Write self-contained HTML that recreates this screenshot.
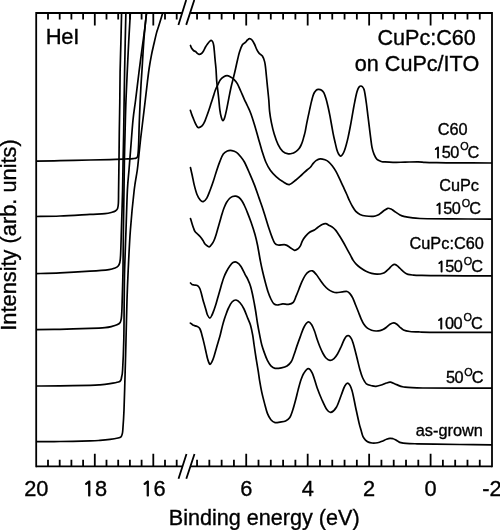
<!DOCTYPE html>
<html><head><meta charset="utf-8"><title>UPS spectra</title>
<style>
html,body{margin:0;padding:0;background:#fff;}
body{width:500px;height:530px;overflow:hidden;}
svg{display:block;}
</style></head>
<body>
<svg width="500" height="530" viewBox="0 0 500 530">
<rect width="500" height="530" fill="#fff"/>
<g stroke="#000" stroke-width="1.80" fill="none" stroke-linecap="butt">
<path d="M36.20,12.10 V467.20 M492.00,12.10 V467.20"/>
<path d="M36.20,13.00 H182.20 M190.40,13.00 H492.00"/>
<path d="M36.20,466.30 H182.20 M190.40,466.30 H492.00"/>
<path d="M48.00,13.00 v6.60 M48.00,466.30 v-6.60 M59.70,13.00 v6.60 M59.70,466.30 v-6.60 M71.40,13.00 v6.60 M71.40,466.30 v-6.60 M83.10,13.00 v6.60 M83.10,466.30 v-6.60 M94.80,13.00 v12.50 M94.80,466.30 v-12.50 M106.50,13.00 v6.60 M106.50,466.30 v-6.60 M118.20,13.00 v6.60 M118.20,466.30 v-6.60 M129.90,13.00 v6.60 M129.90,466.30 v-6.60 M141.60,13.00 v6.60 M141.60,466.30 v-6.60 M153.30,13.00 v12.50 M153.30,466.30 v-12.50 M165.00,13.00 v6.60 M165.00,466.30 v-6.60 M176.70,13.00 v6.60 M176.70,466.30 v-6.60 M197.05,13.00 v6.60 M197.05,466.30 v-6.60 M209.34,13.00 v6.60 M209.34,466.30 v-6.60 M221.64,13.00 v6.60 M221.64,466.30 v-6.60 M233.93,13.00 v6.60 M233.93,466.30 v-6.60 M246.22,13.00 v12.50 M246.22,466.30 v-12.50 M258.51,13.00 v6.60 M258.51,466.30 v-6.60 M270.80,13.00 v6.60 M270.80,466.30 v-6.60 M283.10,13.00 v6.60 M283.10,466.30 v-6.60 M295.39,13.00 v6.60 M295.39,466.30 v-6.60 M307.68,13.00 v12.50 M307.68,466.30 v-12.50 M319.97,13.00 v6.60 M319.97,466.30 v-6.60 M332.26,13.00 v6.60 M332.26,466.30 v-6.60 M344.56,13.00 v6.60 M344.56,466.30 v-6.60 M356.85,13.00 v6.60 M356.85,466.30 v-6.60 M369.14,13.00 v12.50 M369.14,466.30 v-12.50 M381.43,13.00 v6.60 M381.43,466.30 v-6.60 M393.72,13.00 v6.60 M393.72,466.30 v-6.60 M406.02,13.00 v6.60 M406.02,466.30 v-6.60 M418.31,13.00 v6.60 M418.31,466.30 v-6.60 M430.60,13.00 v12.50 M430.60,466.30 v-12.50 M442.89,13.00 v6.60 M442.89,466.30 v-6.60 M455.18,13.00 v6.60 M455.18,466.30 v-6.60 M467.48,13.00 v6.60 M467.48,466.30 v-6.60 M479.77,13.00 v6.60 M479.77,466.30 v-6.60"/>
<path d="M178.4,24.9 L186.2,0 M186.2,24.9 L194.3,0"/>
<path d="M178.5,478.8 L186.5,454 M186.3,478.8 L194.5,454"/>
</g>
<clipPath id="cl"><rect x="36.20" y="13.00" width="455.80" height="453.30"/></clipPath>
<g stroke="#000" stroke-width="1.70" fill="none" stroke-linejoin="round" stroke-linecap="round" clip-path="url(#cl)">
<path d="M36.30,161.10 C40.25,161.03 51.05,160.88 60.00,160.70 C68.95,160.52 81.67,160.18 90.00,160.00 C98.33,159.82 104.17,159.77 110.00,159.60 C115.83,159.43 121.17,159.17 125.00,159.00 C128.83,158.83 131.12,158.77 133.00,158.60 C134.88,158.43 135.50,158.50 136.30,158.00 C137.10,157.50 137.42,157.77 137.80,155.60 C138.18,153.43 138.37,150.10 138.60,145.00 C138.83,139.90 138.97,131.67 139.20,125.00 C139.43,118.33 139.70,111.67 140.00,105.00 C140.30,98.33 140.67,90.83 141.00,85.00 C141.33,79.17 141.68,75.00 142.00,70.00 C142.32,65.00 142.58,60.00 142.90,55.00 C143.22,50.00 143.53,44.83 143.90,40.00 C144.27,35.17 144.65,30.67 145.10,26.00 C145.55,21.33 146.35,14.33 146.60,12.00"/>
<path d="M36.30,216.50 C40.25,216.42 51.05,216.35 60.00,216.00 C68.95,215.65 82.50,214.80 90.00,214.40 C97.50,214.00 101.33,213.95 105.00,213.60 C108.67,213.25 110.27,212.73 112.00,212.30 C113.73,211.87 114.47,211.63 115.40,211.00 C116.33,210.37 117.10,209.83 117.60,208.50 C118.10,207.17 118.23,206.08 118.40,203.00 C118.57,199.92 118.50,197.17 118.60,190.00 C118.70,182.83 118.88,169.67 119.00,160.00 C119.12,150.33 119.17,141.67 119.30,132.00 C119.43,122.33 119.67,112.00 119.80,102.00 C119.93,92.00 119.92,82.00 120.10,72.00 C120.28,62.00 120.65,52.00 120.90,42.00 C121.15,32.00 121.48,17.00 121.60,12.00"/>
<path d="M36.30,273.60 C40.25,273.47 51.05,273.20 60.00,272.80 C68.95,272.40 81.83,271.73 90.00,271.20 C98.17,270.67 104.83,270.13 109.00,269.60 C113.17,269.07 113.47,268.60 115.00,268.00 C116.53,267.40 117.40,266.92 118.20,266.00 C119.00,265.08 119.40,264.33 119.80,262.50 C120.20,260.67 120.33,260.42 120.60,255.00 C120.87,249.58 121.07,240.83 121.40,230.00 C121.73,219.17 122.32,201.67 122.60,190.00 C122.88,178.33 122.92,169.67 123.10,160.00 C123.28,150.33 123.53,141.67 123.70,132.00 C123.87,122.33 123.95,112.00 124.10,102.00 C124.25,92.00 124.42,82.00 124.60,72.00 C124.78,62.00 124.98,52.00 125.20,42.00 C125.42,32.00 125.78,17.00 125.90,12.00"/>
<path d="M36.30,329.70 C40.25,329.63 51.05,329.52 60.00,329.30 C68.95,329.08 82.50,328.68 90.00,328.40 C97.50,328.12 101.33,327.93 105.00,327.60 C108.67,327.27 110.00,326.87 112.00,326.40 C114.00,325.93 115.63,325.47 117.00,324.80 C118.37,324.13 119.48,323.45 120.20,322.40 C120.92,321.35 121.03,320.23 121.30,318.50 C121.57,316.77 121.65,315.08 121.80,312.00 C121.95,308.92 122.00,307.00 122.20,300.00 C122.40,293.00 122.80,281.67 123.00,270.00 C123.20,258.33 123.23,243.33 123.40,230.00 C123.57,216.67 123.83,201.67 124.00,190.00 C124.17,178.33 124.23,169.17 124.40,160.00 C124.57,150.83 124.77,144.17 125.00,135.00 C125.23,125.83 125.45,115.00 125.80,105.00 C126.15,95.00 126.62,85.50 127.10,75.00 C127.58,64.50 128.15,52.50 128.70,42.00 C129.25,31.50 130.12,17.00 130.40,12.00"/>
<path d="M36.30,386.00 C40.25,385.98 51.05,386.02 60.00,385.90 C68.95,385.78 83.33,385.48 90.00,385.30 C96.67,385.12 96.67,385.08 100.00,384.80 C103.33,384.52 106.93,384.07 110.00,383.60 C113.07,383.13 116.60,382.57 118.40,382.00 C120.20,381.43 120.27,381.03 120.80,380.20 C121.33,379.37 121.30,378.70 121.60,377.00 C121.90,375.30 122.23,376.17 122.60,370.00 C122.97,363.83 123.53,351.67 123.80,340.00 C124.07,328.33 124.07,311.67 124.20,300.00 C124.33,288.33 124.30,281.67 124.60,270.00 C124.90,258.33 125.53,243.33 126.00,230.00 C126.47,216.67 126.90,200.00 127.40,190.00 C127.90,180.00 128.47,176.67 129.00,170.00 C129.53,163.33 129.93,158.33 130.60,150.00 C131.27,141.67 132.17,128.33 133.00,120.00 C133.83,111.67 134.60,108.00 135.60,100.00 C136.60,92.00 138.07,79.50 139.00,72.00 C139.93,64.50 140.45,60.67 141.20,55.00 C141.95,49.33 142.85,42.83 143.50,38.00 C144.15,33.17 144.58,30.33 145.10,26.00 C145.62,21.67 146.35,14.33 146.60,12.00"/>
<path d="M36.30,441.70 C40.25,441.67 51.05,441.63 60.00,441.50 C68.95,441.37 83.33,441.08 90.00,440.90 C96.67,440.72 96.67,440.65 100.00,440.40 C103.33,440.15 107.00,439.80 110.00,439.40 C113.00,439.00 116.17,438.43 118.00,438.00 C119.83,437.57 120.30,437.47 121.00,436.80 C121.70,436.13 121.90,435.13 122.20,434.00 C122.50,432.87 122.50,434.00 122.80,430.00 C123.10,426.00 123.60,420.00 124.00,410.00 C124.40,400.00 124.87,381.67 125.20,370.00 C125.53,358.33 125.70,351.67 126.00,340.00 C126.30,328.33 126.63,311.67 127.00,300.00 C127.37,288.33 127.63,281.67 128.20,270.00 C128.77,258.33 129.40,243.33 130.40,230.00 C131.40,216.67 133.05,200.00 134.20,190.00 C135.35,180.00 136.53,175.67 137.30,170.00 C138.07,164.33 138.25,161.17 138.80,156.00 C139.35,150.83 139.92,145.00 140.60,139.00 C141.28,133.00 142.12,126.50 142.90,120.00 C143.68,113.50 144.55,106.33 145.30,100.00 C146.05,93.67 146.75,87.33 147.40,82.00 C148.05,76.67 148.53,72.45 149.20,68.00 C149.87,63.55 150.62,59.30 151.40,55.30 C152.18,51.30 153.03,47.78 153.90,44.00 C154.77,40.22 155.85,35.43 156.60,32.60 C157.35,29.77 157.80,28.88 158.40,27.00 C159.00,25.12 159.48,23.63 160.20,21.30 C160.92,18.97 162.13,14.88 162.70,13.00 C163.27,11.12 163.45,10.50 163.60,10.00"/>
<path d="M190.50,45.50 C190.67,45.92 191.00,47.17 191.50,48.00 C192.00,48.83 192.83,49.92 193.50,50.50 C194.17,51.08 194.92,51.08 195.50,51.50 C196.08,51.92 196.42,52.53 197.00,53.00 C197.58,53.47 198.25,54.22 199.00,54.30 C199.75,54.38 200.75,54.05 201.50,53.50 C202.25,52.95 202.83,52.08 203.50,51.00 C204.17,49.92 204.83,48.17 205.50,47.00 C206.17,45.83 206.83,44.92 207.50,44.00 C208.17,43.08 208.88,42.12 209.50,41.50 C210.12,40.88 210.65,40.22 211.20,40.30 C211.75,40.38 212.37,41.05 212.80,42.00 C213.23,42.95 213.52,44.17 213.80,46.00 C214.08,47.83 214.27,50.50 214.50,53.00 C214.73,55.50 214.95,58.33 215.20,61.00 C215.45,63.67 215.75,65.67 216.00,69.00 C216.25,72.33 216.45,77.83 216.70,81.00 C216.95,84.17 217.17,85.12 217.50,88.00 C217.83,90.88 218.32,94.70 218.70,98.30 C219.08,101.90 219.37,106.43 219.80,109.60 C220.23,112.77 220.77,115.45 221.30,117.30 C221.83,119.15 222.43,120.67 223.00,120.70 C223.57,120.73 224.10,119.35 224.70,117.50 C225.30,115.65 225.92,112.80 226.60,109.60 C227.28,106.40 228.05,102.07 228.80,98.30 C229.55,94.53 230.33,90.40 231.10,87.00 C231.87,83.60 232.67,80.90 233.40,77.90 C234.13,74.90 234.82,71.98 235.50,69.00 C236.18,66.02 236.83,62.83 237.50,60.00 C238.17,57.17 238.68,54.53 239.50,52.00 C240.32,49.47 241.38,46.43 242.40,44.80 C243.42,43.17 244.77,43.00 245.60,42.20 C246.43,41.40 246.73,40.60 247.40,40.00 C248.07,39.40 248.83,38.60 249.60,38.60 C250.37,38.60 251.20,39.10 252.00,40.00 C252.80,40.90 253.60,42.40 254.40,44.00 C255.20,45.60 256.00,48.03 256.80,49.60 C257.60,51.17 258.27,52.33 259.20,53.40 C260.13,54.47 261.50,54.63 262.40,56.00 C263.30,57.37 264.07,59.60 264.60,61.60 C265.13,63.60 265.30,65.60 265.60,68.00 C265.90,70.40 266.08,72.80 266.40,76.00 C266.72,79.20 267.10,83.20 267.50,87.20 C267.90,91.20 268.45,95.98 268.80,100.00 C269.15,104.02 269.17,107.53 269.60,111.30 C270.03,115.07 270.63,118.82 271.40,122.60 C272.17,126.38 273.10,130.38 274.20,134.00 C275.30,137.62 276.58,141.40 278.00,144.30 C279.42,147.20 280.97,149.80 282.70,151.40 C284.43,153.00 286.70,153.60 288.40,153.90 C290.10,154.20 291.60,153.62 292.90,153.20 C294.20,152.78 295.20,152.13 296.20,151.40 C297.20,150.67 298.12,149.78 298.90,148.80 C299.68,147.82 300.30,146.72 300.90,145.50 C301.50,144.28 302.02,142.93 302.50,141.50 C302.98,140.07 303.35,138.55 303.80,136.90 C304.25,135.25 304.78,133.48 305.20,131.60 C305.62,129.72 305.92,127.60 306.30,125.60 C306.68,123.60 307.10,121.52 307.50,119.60 C307.90,117.68 308.27,116.12 308.70,114.10 C309.13,112.08 309.63,109.62 310.10,107.50 C310.57,105.38 310.93,103.60 311.50,101.40 C312.07,99.20 312.70,96.18 313.50,94.30 C314.30,92.42 315.45,90.92 316.30,90.10 C317.15,89.28 317.72,89.38 318.60,89.40 C319.48,89.42 320.73,89.65 321.60,90.20 C322.47,90.75 323.05,91.23 323.80,92.70 C324.55,94.17 325.38,96.62 326.10,99.00 C326.82,101.38 327.45,104.13 328.10,107.00 C328.75,109.87 329.18,111.90 330.00,116.20 C330.82,120.50 332.17,128.50 333.00,132.80 C333.83,137.10 334.37,139.23 335.00,142.00 C335.63,144.77 336.20,147.40 336.80,149.40 C337.40,151.40 337.97,152.87 338.60,154.00 C339.23,155.13 339.95,156.10 340.60,156.20 C341.25,156.30 341.88,155.47 342.50,154.60 C343.12,153.73 343.68,152.60 344.30,151.00 C344.92,149.40 345.57,147.27 346.20,145.00 C346.83,142.73 347.47,140.23 348.10,137.40 C348.73,134.57 349.37,131.28 350.00,128.00 C350.63,124.72 351.33,120.87 351.90,117.70 C352.47,114.53 352.90,111.77 353.40,109.00 C353.90,106.23 354.40,103.60 354.90,101.10 C355.40,98.60 355.90,96.00 356.40,94.00 C356.90,92.00 357.40,90.33 357.90,89.10 C358.40,87.87 358.90,87.12 359.40,86.60 C359.90,86.08 360.40,85.97 360.90,86.00 C361.40,86.03 361.88,86.23 362.40,86.80 C362.92,87.37 363.57,88.20 364.00,89.40 C364.43,90.60 364.60,91.65 365.00,94.00 C365.40,96.35 365.93,100.03 366.40,103.50 C366.87,106.97 367.33,111.03 367.80,114.80 C368.27,118.57 368.73,122.33 369.20,126.10 C369.67,129.87 370.13,133.87 370.60,137.40 C371.07,140.93 371.42,144.47 372.00,147.30 C372.58,150.13 373.27,152.38 374.10,154.40 C374.93,156.42 375.82,158.22 377.00,159.40 C378.18,160.58 380.03,161.08 381.20,161.50 C382.37,161.92 382.03,161.75 384.00,161.90 C385.97,162.05 389.50,162.37 393.00,162.40 C396.50,162.43 400.83,162.20 405.00,162.10 C409.17,162.00 414.67,161.77 418.00,161.80 C421.33,161.83 422.17,162.17 425.00,162.30 C427.83,162.43 430.00,162.50 435.00,162.60 C440.00,162.70 445.58,162.83 455.00,162.90 C464.42,162.97 485.42,162.98 491.50,163.00"/>
<path d="M190.40,110.40 C190.63,111.10 191.32,113.27 191.80,114.60 C192.28,115.93 192.80,117.15 193.30,118.40 C193.80,119.65 194.23,120.85 194.80,122.10 C195.37,123.35 196.10,124.98 196.70,125.90 C197.30,126.82 197.72,127.47 198.40,127.60 C199.08,127.73 200.02,127.23 200.80,126.70 C201.58,126.17 202.40,125.38 203.10,124.40 C203.80,123.42 204.37,122.23 205.00,120.80 C205.63,119.37 206.22,117.68 206.90,115.80 C207.58,113.92 208.42,111.53 209.10,109.50 C209.78,107.47 210.32,105.72 211.00,103.60 C211.68,101.48 212.50,98.98 213.20,96.80 C213.90,94.62 214.48,92.42 215.20,90.50 C215.92,88.58 216.63,87.08 217.50,85.30 C218.37,83.52 219.35,81.22 220.40,79.80 C221.45,78.38 222.68,77.48 223.80,76.80 C224.92,76.12 225.98,75.67 227.10,75.70 C228.22,75.73 229.37,76.40 230.50,77.00 C231.63,77.60 232.77,78.20 233.90,79.30 C235.03,80.40 236.17,81.65 237.30,83.60 C238.43,85.55 239.57,88.47 240.70,91.00 C241.83,93.53 242.97,96.30 244.10,98.80 C245.23,101.30 246.40,103.60 247.50,106.00 C248.60,108.40 249.55,110.12 250.70,113.20 C251.85,116.28 253.15,120.42 254.40,124.50 C255.65,128.58 256.93,133.30 258.20,137.70 C259.47,142.10 260.73,146.85 262.00,150.90 C263.27,154.95 264.38,158.72 265.80,162.00 C267.22,165.28 268.78,168.17 270.50,170.60 C272.22,173.03 274.07,174.77 276.10,176.60 C278.13,178.43 280.50,180.27 282.70,181.60 C284.90,182.93 287.10,184.87 289.30,184.60 C291.50,184.33 293.85,181.60 295.90,180.00 C297.95,178.40 299.75,176.67 301.60,175.00 C303.45,173.33 305.50,171.33 307.00,170.00 C308.50,168.67 309.60,168.07 310.60,167.00 C311.60,165.93 312.10,164.67 313.00,163.60 C313.90,162.53 314.80,161.40 316.00,160.60 C317.20,159.80 318.70,158.93 320.20,158.80 C321.70,158.67 323.60,159.30 325.00,159.80 C326.40,160.30 327.40,160.80 328.60,161.80 C329.80,162.80 331.00,164.23 332.20,165.80 C333.40,167.37 334.60,169.10 335.80,171.20 C337.00,173.30 338.20,175.90 339.40,178.40 C340.60,180.90 341.80,183.60 343.00,186.20 C344.20,188.80 345.53,191.62 346.60,194.00 C347.67,196.38 348.42,198.42 349.40,200.50 C350.38,202.58 351.43,204.68 352.50,206.50 C353.57,208.32 354.55,210.08 355.80,211.40 C357.05,212.72 358.30,213.63 360.00,214.40 C361.70,215.17 363.80,215.67 366.00,216.00 C368.20,216.33 371.20,216.57 373.20,216.40 C375.20,216.23 376.70,215.57 378.00,215.00 C379.30,214.43 379.92,213.78 381.00,213.00 C382.08,212.22 383.37,211.08 384.50,210.30 C385.63,209.52 386.72,208.52 387.80,208.30 C388.88,208.08 389.97,208.55 391.00,209.00 C392.03,209.45 392.50,210.00 394.00,211.00 C395.50,212.00 398.17,214.05 400.00,215.00 C401.83,215.95 403.17,216.25 405.00,216.70 C406.83,217.15 408.50,217.40 411.00,217.70 C413.50,218.00 413.50,218.30 420.00,218.50 C426.50,218.70 438.08,218.80 450.00,218.90 C461.92,219.00 484.58,219.07 491.50,219.10"/>
<path d="M190.50,167.70 C190.80,169.03 191.68,172.83 192.30,175.70 C192.92,178.57 193.43,181.82 194.20,184.90 C194.97,187.98 195.90,191.68 196.90,194.20 C197.90,196.72 199.15,198.77 200.20,200.00 C201.25,201.23 202.10,201.92 203.20,201.60 C204.30,201.28 205.65,200.00 206.80,198.10 C207.95,196.20 209.00,193.05 210.10,190.20 C211.20,187.35 212.30,184.30 213.40,181.00 C214.50,177.70 215.60,173.72 216.70,170.40 C217.80,167.08 218.90,163.83 220.00,161.10 C221.10,158.37 222.08,155.68 223.30,154.00 C224.52,152.32 225.87,151.57 227.30,151.00 C228.73,150.43 230.37,150.37 231.90,150.60 C233.43,150.83 235.07,151.42 236.50,152.40 C237.93,153.38 239.18,154.90 240.50,156.50 C241.82,158.10 242.87,159.15 244.40,162.00 C245.93,164.85 248.03,169.78 249.70,173.60 C251.37,177.42 252.85,180.85 254.40,184.90 C255.95,188.95 257.68,194.18 259.00,197.90 C260.32,201.62 261.20,203.90 262.30,207.20 C263.40,210.50 264.50,214.18 265.60,217.70 C266.70,221.22 267.80,224.98 268.90,228.30 C270.00,231.62 271.22,235.12 272.20,237.60 C273.18,240.08 273.82,241.97 274.80,243.20 C275.78,244.43 276.33,244.73 278.10,245.00 C279.87,245.27 283.42,244.40 285.40,244.80 C287.38,245.20 288.47,246.48 290.00,247.40 C291.53,248.32 293.28,250.07 294.60,250.30 C295.92,250.53 296.92,249.58 297.90,248.80 C298.88,248.02 299.75,246.93 300.50,245.60 C301.25,244.27 301.58,242.33 302.40,240.80 C303.22,239.27 304.20,237.83 305.40,236.40 C306.60,234.97 308.10,233.27 309.60,232.20 C311.10,231.13 313.00,230.83 314.40,230.00 C315.80,229.17 316.70,228.13 318.00,227.20 C319.30,226.27 320.90,225.00 322.20,224.40 C323.50,223.80 324.70,223.47 325.80,223.60 C326.90,223.73 327.60,224.53 328.80,225.20 C330.00,225.87 331.80,226.70 333.00,227.60 C334.20,228.50 334.90,229.20 336.00,230.60 C337.10,232.00 338.40,234.10 339.60,236.00 C340.80,237.90 342.00,239.90 343.20,242.00 C344.40,244.10 345.60,246.40 346.80,248.60 C348.00,250.80 349.33,253.23 350.40,255.20 C351.47,257.17 352.20,258.87 353.20,260.40 C354.20,261.93 355.20,263.18 356.40,264.40 C357.60,265.62 358.80,266.57 360.40,267.70 C362.00,268.83 364.13,270.25 366.00,271.20 C367.87,272.15 369.73,272.90 371.60,273.40 C373.47,273.90 375.30,274.22 377.20,274.20 C379.10,274.18 381.45,273.83 383.00,273.30 C384.55,272.77 385.48,271.78 386.50,271.00 C387.52,270.22 388.18,269.50 389.10,268.60 C390.02,267.70 391.08,266.30 392.00,265.60 C392.92,264.90 393.77,264.40 394.60,264.40 C395.43,264.40 396.27,265.12 397.00,265.60 C397.73,266.08 398.25,266.60 399.00,267.30 C399.75,268.00 400.60,268.95 401.50,269.80 C402.40,270.65 403.32,271.63 404.40,272.40 C405.48,273.17 406.50,273.95 408.00,274.40 C409.50,274.85 411.40,274.93 413.40,275.10 C415.40,275.27 415.57,275.30 420.00,275.40 C424.43,275.50 428.08,275.62 440.00,275.70 C451.92,275.78 482.92,275.87 491.50,275.90"/>
<path d="M190.50,218.50 C190.75,219.33 191.50,221.92 192.00,223.50 C192.50,225.08 193.00,226.67 193.50,228.00 C194.00,229.33 194.33,230.50 195.00,231.50 C195.67,232.50 196.58,233.08 197.50,234.00 C198.42,234.92 199.58,235.92 200.50,237.00 C201.42,238.08 202.25,239.33 203.00,240.50 C203.75,241.67 204.25,243.08 205.00,244.00 C205.75,244.92 206.75,245.53 207.50,246.00 C208.25,246.47 208.75,247.13 209.50,246.80 C210.25,246.47 211.25,245.05 212.00,244.00 C212.75,242.95 213.33,242.00 214.00,240.50 C214.67,239.00 215.33,237.08 216.00,235.00 C216.67,232.92 217.33,230.33 218.00,228.00 C218.67,225.67 219.33,223.33 220.00,221.00 C220.67,218.67 221.33,216.17 222.00,214.00 C222.67,211.83 223.25,209.92 224.00,208.00 C224.75,206.08 225.58,204.08 226.50,202.50 C227.42,200.92 228.50,199.50 229.50,198.50 C230.50,197.50 231.43,196.90 232.50,196.50 C233.57,196.10 234.82,195.93 235.90,196.10 C236.98,196.27 237.98,196.68 239.00,197.50 C240.02,198.32 241.10,199.67 242.00,201.00 C242.90,202.33 243.57,203.75 244.40,205.50 C245.23,207.25 245.90,208.75 247.00,211.50 C248.10,214.25 249.67,218.17 251.00,222.00 C252.33,225.83 253.90,230.58 255.00,234.50 C256.10,238.42 256.70,241.05 257.60,245.50 C258.50,249.95 259.58,256.95 260.40,261.20 C261.22,265.45 261.68,267.50 262.50,271.00 C263.32,274.50 264.37,278.70 265.30,282.20 C266.23,285.70 267.17,289.20 268.10,292.00 C269.03,294.80 269.97,297.07 270.90,299.00 C271.83,300.93 272.65,302.60 273.70,303.60 C274.75,304.60 275.68,304.95 277.20,305.00 C278.72,305.05 280.93,304.02 282.80,303.90 C284.67,303.78 286.65,304.57 288.40,304.30 C290.15,304.03 292.02,303.65 293.30,302.30 C294.58,300.95 295.17,298.38 296.10,296.20 C297.03,294.02 297.97,291.53 298.90,289.20 C299.83,286.87 300.65,284.50 301.70,282.20 C302.75,279.90 304.03,277.15 305.20,275.40 C306.37,273.65 307.48,272.45 308.70,271.70 C309.92,270.95 311.23,270.43 312.50,270.90 C313.77,271.37 315.08,273.05 316.30,274.50 C317.52,275.95 318.52,277.82 319.80,279.60 C321.08,281.38 322.60,283.57 324.00,285.20 C325.40,286.83 326.80,288.32 328.20,289.40 C329.60,290.48 331.00,291.15 332.40,291.70 C333.80,292.25 334.97,292.67 336.60,292.70 C338.23,292.73 340.45,292.10 342.20,291.90 C343.95,291.70 345.82,291.22 347.10,291.50 C348.38,291.78 348.97,292.55 349.90,293.60 C350.83,294.65 351.77,295.93 352.70,297.80 C353.63,299.67 354.57,302.47 355.50,304.80 C356.43,307.13 357.37,309.47 358.30,311.80 C359.23,314.13 360.17,316.73 361.10,318.80 C362.03,320.87 362.85,322.63 363.90,324.20 C364.95,325.77 366.12,327.20 367.40,328.20 C368.68,329.20 370.17,329.73 371.60,330.20 C373.03,330.67 374.60,330.93 376.00,331.00 C377.40,331.07 378.83,330.85 380.00,330.60 C381.17,330.35 381.92,330.07 383.00,329.50 C384.08,328.93 385.33,328.07 386.50,327.20 C387.67,326.33 388.82,325.03 390.00,324.30 C391.18,323.57 392.52,322.85 393.60,322.80 C394.68,322.75 395.52,323.33 396.50,324.00 C397.48,324.67 398.33,325.80 399.50,326.80 C400.67,327.80 401.78,329.22 403.50,330.00 C405.22,330.78 407.05,331.17 409.80,331.50 C412.55,331.83 414.97,331.87 420.00,332.00 C425.03,332.13 428.08,332.23 440.00,332.30 C451.92,332.37 482.92,332.38 491.50,332.40"/>
<path d="M190.50,283.00 C190.75,283.25 191.42,284.17 192.00,284.50 C192.58,284.83 193.25,284.87 194.00,285.00 C194.75,285.13 195.75,285.05 196.50,285.30 C197.25,285.55 197.92,285.88 198.50,286.50 C199.08,287.12 199.50,287.75 200.00,289.00 C200.50,290.25 201.00,292.17 201.50,294.00 C202.00,295.83 202.50,298.17 203.00,300.00 C203.50,301.83 204.00,303.33 204.50,305.00 C205.00,306.67 205.50,308.33 206.00,310.00 C206.50,311.67 206.85,313.65 207.50,315.00 C208.15,316.35 209.15,318.10 209.90,318.10 C210.65,318.10 211.32,316.35 212.00,315.00 C212.68,313.65 213.33,311.83 214.00,310.00 C214.67,308.17 215.33,306.17 216.00,304.00 C216.67,301.83 217.33,299.33 218.00,297.00 C218.67,294.67 219.33,292.33 220.00,290.00 C220.67,287.67 221.33,285.17 222.00,283.00 C222.67,280.83 223.25,278.92 224.00,277.00 C224.75,275.08 225.58,273.25 226.50,271.50 C227.42,269.75 228.42,267.98 229.50,266.50 C230.58,265.02 231.75,263.28 233.00,262.60 C234.25,261.92 235.67,261.75 237.00,262.40 C238.33,263.05 239.67,264.52 241.00,266.50 C242.33,268.48 243.87,272.15 245.00,274.30 C246.13,276.45 246.87,277.38 247.80,279.40 C248.73,281.42 249.78,283.77 250.60,286.40 C251.42,289.03 252.07,292.27 252.70,295.20 C253.33,298.13 253.88,301.20 254.40,304.00 C254.92,306.80 255.27,308.67 255.80,312.00 C256.33,315.33 256.95,320.13 257.60,324.00 C258.25,327.87 259.00,331.70 259.70,335.20 C260.40,338.70 260.98,341.97 261.80,345.00 C262.62,348.03 263.67,350.83 264.60,353.40 C265.53,355.97 266.35,358.33 267.40,360.40 C268.45,362.47 269.62,364.48 270.90,365.80 C272.18,367.12 273.35,367.97 275.10,368.30 C276.85,368.63 279.42,368.18 281.40,367.80 C283.38,367.42 285.37,367.00 287.00,366.00 C288.63,365.00 290.03,363.67 291.20,361.80 C292.37,359.93 293.07,357.37 294.00,354.80 C294.93,352.23 295.75,349.43 296.80,346.40 C297.85,343.37 299.13,339.75 300.30,336.60 C301.47,333.45 302.52,329.93 303.80,327.50 C305.08,325.07 306.72,322.52 308.00,322.00 C309.28,321.48 310.42,322.90 311.50,324.40 C312.58,325.90 313.55,328.48 314.50,331.00 C315.45,333.52 316.28,336.83 317.20,339.50 C318.12,342.17 319.03,344.67 320.00,347.00 C320.97,349.33 322.00,351.67 323.00,353.50 C324.00,355.33 324.83,356.85 326.00,358.00 C327.17,359.15 328.67,360.30 330.00,360.40 C331.33,360.50 332.75,359.67 334.00,358.60 C335.25,357.53 336.33,355.93 337.50,354.00 C338.67,352.07 339.92,349.33 341.00,347.00 C342.08,344.67 343.08,341.80 344.00,340.00 C344.92,338.20 345.67,336.90 346.50,336.20 C347.33,335.50 348.17,335.37 349.00,335.80 C349.83,336.23 350.83,337.63 351.50,338.80 C352.17,339.97 352.42,340.93 353.00,342.80 C353.58,344.67 354.25,347.13 355.00,350.00 C355.75,352.87 356.67,356.67 357.50,360.00 C358.33,363.33 359.17,367.08 360.00,370.00 C360.83,372.92 361.43,375.20 362.50,377.50 C363.57,379.80 364.82,382.42 366.40,383.80 C367.98,385.18 370.40,385.38 372.00,385.80 C373.60,386.22 374.30,386.47 376.00,386.30 C377.70,386.13 380.45,385.35 382.20,384.80 C383.95,384.25 385.10,383.43 386.50,383.00 C387.90,382.57 388.92,381.93 390.60,382.20 C392.28,382.47 394.40,383.80 396.60,384.60 C398.80,385.40 399.40,386.43 403.80,387.00 C408.20,387.57 408.38,387.80 423.00,388.00 C437.62,388.20 480.08,388.17 491.50,388.20"/>
<path d="M190.40,323.10 C190.80,323.40 191.97,324.43 192.80,324.90 C193.63,325.37 194.53,325.57 195.40,325.90 C196.27,326.23 197.23,326.38 198.00,326.90 C198.77,327.42 199.40,327.87 200.00,329.00 C200.60,330.13 201.07,331.88 201.60,333.70 C202.13,335.52 202.68,337.83 203.20,339.90 C203.72,341.97 204.18,343.85 204.70,346.10 C205.22,348.35 205.78,351.15 206.30,353.40 C206.82,355.65 207.20,357.78 207.80,359.60 C208.40,361.42 209.20,363.95 209.90,364.30 C210.60,364.65 211.32,363.00 212.00,361.70 C212.68,360.40 213.32,358.58 214.00,356.50 C214.68,354.42 215.40,351.62 216.10,349.20 C216.80,346.78 217.50,344.42 218.20,342.00 C218.90,339.58 219.62,337.30 220.30,334.70 C220.98,332.10 221.62,329.00 222.30,326.40 C222.98,323.80 223.70,321.33 224.40,319.10 C225.10,316.87 225.82,314.85 226.50,313.00 C227.18,311.15 227.58,309.83 228.50,308.00 C229.42,306.17 230.75,303.33 232.00,302.00 C233.25,300.67 234.67,299.87 236.00,300.00 C237.33,300.13 238.67,301.30 240.00,302.80 C241.33,304.30 242.70,306.40 244.00,309.00 C245.30,311.60 246.70,315.67 247.80,318.40 C248.90,321.13 249.78,322.60 250.60,325.40 C251.42,328.20 252.12,331.93 252.70,335.20 C253.28,338.47 253.52,341.03 254.10,345.00 C254.68,348.97 255.50,354.57 256.20,359.00 C256.90,363.43 257.72,367.90 258.30,371.60 C258.88,375.30 259.12,377.73 259.70,381.20 C260.28,384.67 260.98,388.67 261.80,392.40 C262.62,396.13 263.67,400.10 264.60,403.60 C265.53,407.10 266.35,410.72 267.40,413.40 C268.45,416.08 269.62,418.17 270.90,419.70 C272.18,421.23 273.58,422.20 275.10,422.60 C276.62,423.00 278.25,422.37 280.00,422.10 C281.75,421.83 283.97,421.75 285.60,421.00 C287.23,420.25 288.63,419.33 289.80,417.60 C290.97,415.87 291.67,413.40 292.60,410.60 C293.53,407.80 294.47,404.30 295.40,400.80 C296.33,397.30 297.27,393.10 298.20,389.60 C299.13,386.10 300.07,382.52 301.00,379.80 C301.93,377.08 302.60,375.17 303.80,373.30 C305.00,371.43 306.77,368.58 308.20,368.60 C309.63,368.62 310.90,370.17 312.40,373.40 C313.90,376.63 315.60,383.57 317.20,388.00 C318.80,392.43 320.40,396.40 322.00,400.00 C323.60,403.60 325.32,407.53 326.80,409.60 C328.28,411.67 329.30,412.80 330.90,412.40 C332.50,412.00 334.68,410.07 336.40,407.20 C338.12,404.33 339.80,398.73 341.20,395.20 C342.60,391.67 343.60,387.97 344.80,386.00 C346.00,384.03 347.20,382.67 348.40,383.40 C349.60,384.13 350.80,386.43 352.00,390.40 C353.20,394.37 354.40,401.67 355.60,407.20 C356.80,412.73 358.30,419.80 359.20,423.60 C360.10,427.40 360.37,427.83 361.00,430.00 C361.63,432.17 362.25,434.92 363.00,436.60 C363.75,438.28 364.60,439.18 365.50,440.10 C366.40,441.02 367.32,441.62 368.40,442.10 C369.48,442.58 370.80,442.85 372.00,443.00 C373.20,443.15 374.35,443.12 375.60,443.00 C376.85,442.88 378.30,442.63 379.50,442.30 C380.70,441.97 381.63,441.50 382.80,441.00 C383.97,440.50 385.30,439.75 386.50,439.30 C387.70,438.85 388.92,438.40 390.00,438.30 C391.08,438.20 392.10,438.47 393.00,438.70 C393.90,438.93 394.57,439.27 395.40,439.70 C396.23,440.13 397.10,440.82 398.00,441.30 C398.90,441.78 399.47,442.25 400.80,442.60 C402.13,442.95 403.30,443.20 406.00,443.40 C408.70,443.60 412.17,443.67 417.00,443.80 C421.83,443.93 427.83,444.08 435.00,444.20 C442.17,444.32 450.58,444.40 460.00,444.50 C469.42,444.60 486.25,444.75 491.50,444.80"/>
</g>
<g font-family="'Liberation Sans', Arial, Helvetica, sans-serif" fill="#000" stroke="#000" stroke-width="0.35">
<text x="45.8" y="44.1" font-size="22" letter-spacing="-0.35">HeI</text>
<text x="475.8" y="44.6" font-size="21.6" text-anchor="end">CuPc:C60</text>
<text x="479.2" y="70.6" font-size="21.6" text-anchor="end">on CuPc/ITO</text>
<g font-size="16.3">
<text transform="translate(467.60,135.00) scale(1,0.960)" text-anchor="end">C60</text>
<text transform="translate(479.40,157.60) scale(1,0.960)" text-anchor="end"><tspan letter-spacing="-0.5"><tspan font-family="NanumGothic, 'Liberation Sans', sans-serif" font-size="15.16" stroke-width="0.85">1</tspan>50</tspan><tspan font-size="10.8" dx="1.30" dy="-8.00">O</tspan><tspan dx="-0.90" dy="8.00">C</tspan></text>
<text transform="translate(479.00,191.20) scale(1,0.960)" text-anchor="end">CuPc</text>
<text transform="translate(481.00,214.30) scale(1,0.960)" text-anchor="end"><tspan letter-spacing="-0.5"><tspan font-family="NanumGothic, 'Liberation Sans', sans-serif" font-size="15.16" stroke-width="0.85">1</tspan>50</tspan><tspan font-size="10.8" dx="1.30" dy="-8.00">O</tspan><tspan dx="-0.90" dy="8.00">C</tspan></text>
<text transform="translate(483.80,248.80) scale(1,0.960)" text-anchor="end">CuPc:C60</text>
<text transform="translate(483.00,272.20) scale(1,0.960)" text-anchor="end"><tspan letter-spacing="-0.5"><tspan font-family="NanumGothic, 'Liberation Sans', sans-serif" font-size="15.16" stroke-width="0.85">1</tspan>50</tspan><tspan font-size="10.8" dx="1.30" dy="-8.00">O</tspan><tspan dx="-0.90" dy="8.00">C</tspan></text>
<text transform="translate(482.70,328.50) scale(1,0.960)" text-anchor="end"><tspan letter-spacing="-0.5"><tspan font-family="NanumGothic, 'Liberation Sans', sans-serif" font-size="15.16" stroke-width="0.85">1</tspan>00</tspan><tspan font-size="10.8" dx="1.30" dy="-8.00">O</tspan><tspan dx="-0.90" dy="8.00">C</tspan></text>
<text transform="translate(483.60,383.20) scale(1,0.960)" text-anchor="end"><tspan letter-spacing="-0.5">50</tspan><tspan font-size="10.8" dx="1.30" dy="-8.00">O</tspan><tspan dx="-0.90" dy="8.00">C</tspan></text>
<text transform="translate(482.80,435.80) scale(1,0.960)" text-anchor="end">as-grown</text>
</g>
<g font-size="21.8" text-anchor="middle">
<text x="36.3" y="496.2">20</text>
<text x="94.8" y="496.2"><tspan font-family="NanumGothic, 'Liberation Sans', sans-serif" font-size="20.27" stroke-width="0.85">1</tspan>8</text>
<text x="153.3" y="496.2"><tspan font-family="NanumGothic, 'Liberation Sans', sans-serif" font-size="20.27" stroke-width="0.85">1</tspan>6</text>
<text x="246.2" y="496.2">6</text>
<text x="307.7" y="496.2">4</text>
<text x="369.1" y="496.2">2</text>
<text x="430.6" y="496.2">0</text>
<text x="492.0" y="496.2">-2</text>
</g>
<text x="264.2" y="525" font-size="21.6" text-anchor="middle">Binding energy (eV)</text>
<text transform="translate(15.7,235.0) rotate(-90)" font-size="21.8" text-anchor="middle">Intensity (arb. units)</text>
</g>
</svg>
</body></html>
